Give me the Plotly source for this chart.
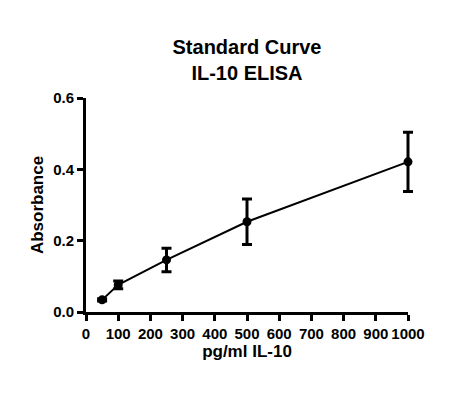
import plotly.graph_objects as go

conc = [50, 100, 250, 500, 1000]
absorbance = [0.034, 0.076, 0.146, 0.253, 0.421]
sem = [0.003, 0.011, 0.033, 0.064, 0.083]

x_ticks = [0, 100, 200, 300, 400, 500, 600, 700, 800, 900, 1000]
y_ticks = [0.0, 0.2, 0.4, 0.6]

FONT = "Liberation Sans, Arial, sans-serif"

# main axis spans 322 px; a hidden twin axis gets 12 extra px so right-edge error bars are not clipped
main_px = 322
extra_px = 12
frac = main_px / (main_px + extra_px)

fig = go.Figure()
# invisible trace so the main x axis is rendered
fig.add_trace(go.Scatter(
    x=conc, y=absorbance, xaxis="x", yaxis="y",
    mode="markers", marker=dict(opacity=0, size=1),
    hoverinfo="skip", showlegend=False,
))
fig.add_trace(go.Scatter(
    x=conc, y=absorbance,
    xaxis="x2", yaxis="y",
    mode="lines+markers",
    line=dict(color="black", width=2),
    marker=dict(color="black", size=9, symbol="circle"),
    error_y=dict(type="data", array=sem, visible=True, color="black", thickness=3, width=5),
    cliponaxis=False,
    showlegend=False,
))

fig.update_layout(
    width=474, height=399,
    margin=dict(l=78, r=74 - extra_px, t=90, b=95),
    paper_bgcolor="white", plot_bgcolor="rgba(0,0,0,0)",
    font=dict(family=FONT, color="black"),
    title=dict(
        text="<b>Standard Curve<br>IL-10 ELISA</b>",
        x=(247 - 8) / 474, xanchor="center",
        y=1 - (54 - 8) / 399, yanchor="middle",
        font=dict(size=20, family=FONT, color="black"),
    ),
    xaxis=dict(
        domain=[0, frac],
        range=[0, 1000], tickvals=x_ticks, ticktext=[f"<b>{v}</b>" for v in x_ticks],
        showline=True, linewidth=3, linecolor="black", mirror=False,
        ticks="outside", ticklen=6, tickwidth=3, tickcolor="black",
        showgrid=False, zeroline=False,
        tickfont=dict(size=15, family=FONT, color="black"),
        title=dict(text="<b>pg/ml IL-10</b>", font=dict(size=17, family=FONT, color="black"), standoff=4),
    ),
    xaxis2=dict(
        domain=[0, 1], range=[0, 1000 / frac], anchor="y",
        visible=False, showgrid=False, zeroline=False,
    ),
    yaxis=dict(
        range=[0, 0.6], tickvals=y_ticks, ticktext=[f"<b>{v:.1f}</b>" for v in y_ticks],
        showline=True, linewidth=3, linecolor="black", mirror=False,
        ticks="outside", ticklen=6, tickwidth=3, tickcolor="black",
        showgrid=False, zeroline=False,
        tickfont=dict(size=15, family=FONT, color="black"),
        title=dict(text="<b>Absorbance</b>", font=dict(size=17, family=FONT, color="black"), standoff=6),
    ),
)

fig.write_html("out.html")
